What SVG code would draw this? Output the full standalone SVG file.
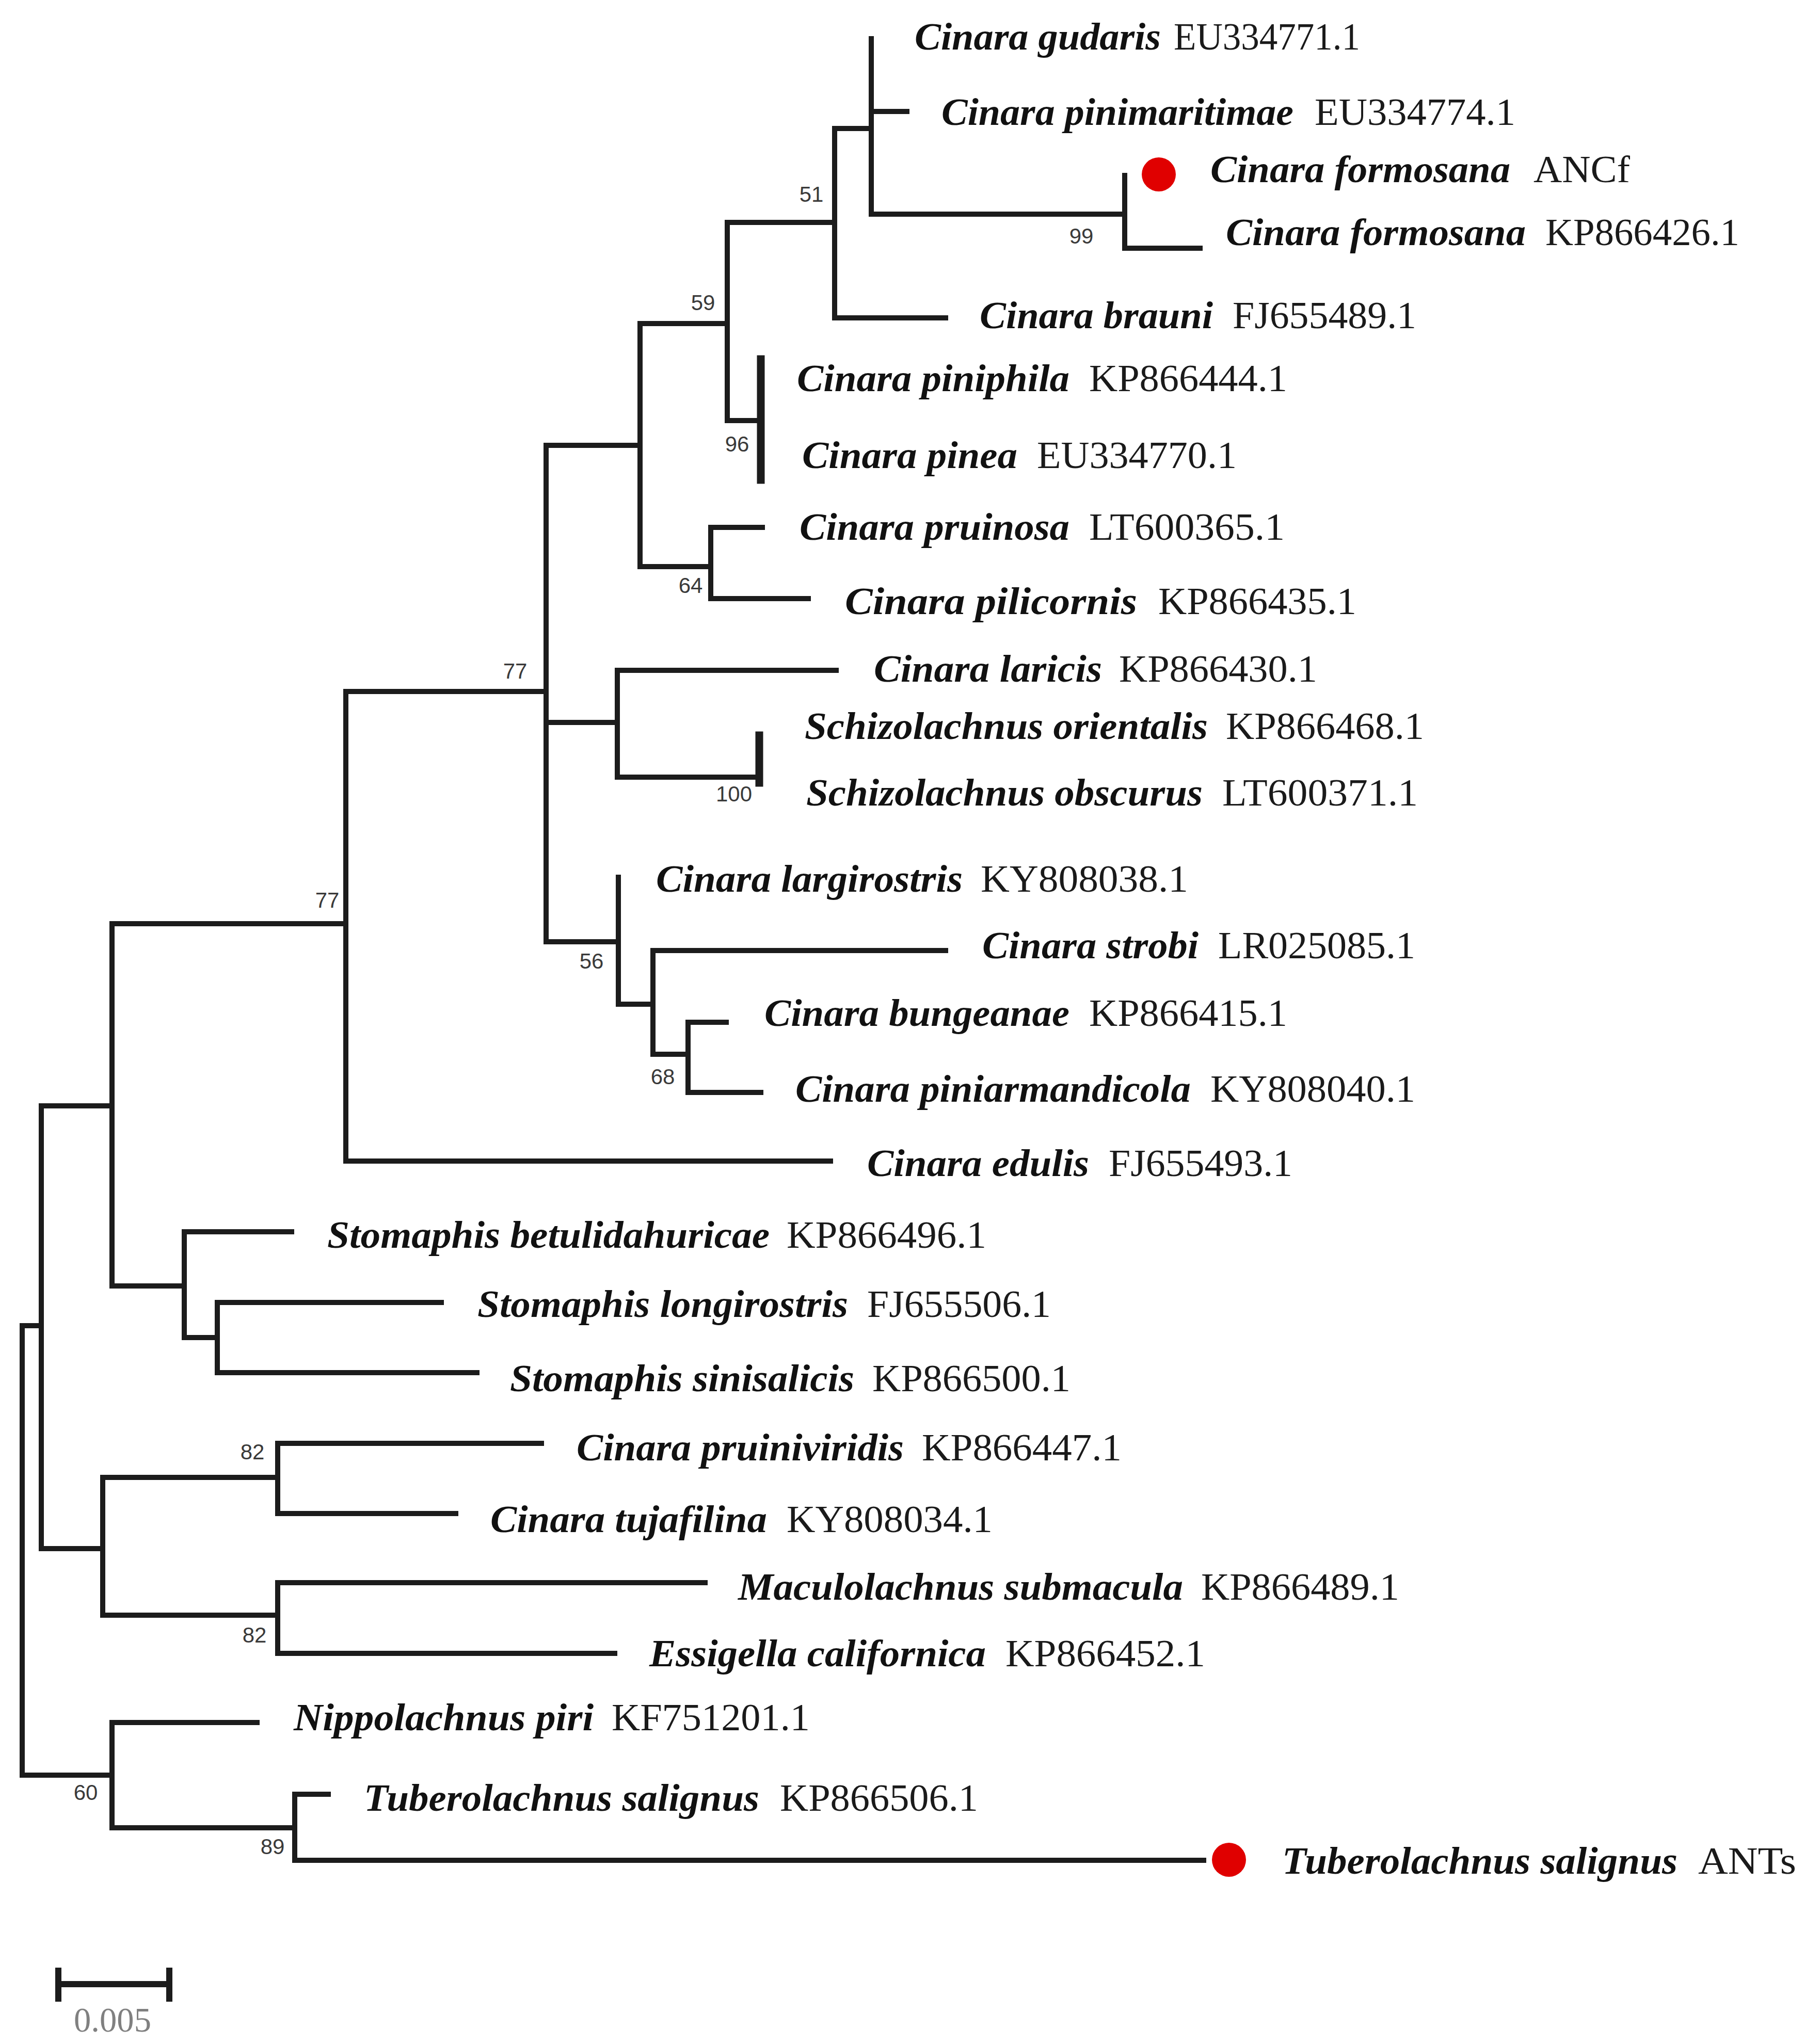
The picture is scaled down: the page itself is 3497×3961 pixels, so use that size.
<svg xmlns="http://www.w3.org/2000/svg" width="3497" height="3961" viewBox="0 0 3497 3961">
<style>
.br{fill:none;stroke:#1c1c1c;stroke-width:10;stroke-linecap:square}
.thick{stroke-width:15}
.sp{font-family:"Liberation Serif",serif;font-style:italic;font-weight:bold;font-size:75px;fill:#111}
.ac{font-family:"Liberation Serif",serif;font-size:75px;fill:#1a1a1a}
.bs{font-family:"Liberation Sans",sans-serif;font-size:42px;fill:#3a3a3a;text-anchor:middle}
.dot{fill:#e00000}
.sc{font-family:"Liberation Serif",serif;font-size:68px;fill:#808080;text-anchor:middle}
</style>
<rect width="3497" height="3961" fill="#fff"/>
<g id="connectors">
<path class="br" d="M43 2569V3440M43 2569H80M43 3440H217"/>
<path class="br" d="M80 2143V3001M80 2143H217M80 3001H199"/>
<path class="br" d="M217 1790V2492M217 1790H670M217 2492H357"/>
<path class="br" d="M670 1340V2250M670 1340H1058M670 2250H1609"/>
<path class="br" d="M1058 863V1825M1058 863H1240M1058 1400H1196M1058 1825H1198"/>
<path class="br" d="M1240 627V1098M1240 627H1409M1240 1098H1377"/>
<path class="br" d="M1409 431V815M1409 431H1617M1409 815H1474"/>
<path class="br" d="M1617 249V616M1617 249H1688M1617 616H1832"/>
<path class="br" d="M1688 75V415M1688 216H1757M1688 415H2179"/>
<path class="br" d="M2179 340V481M2179 481H2325"/>
<path class="br thick" d="M1474 696V930"/>
<path class="br" d="M1377 1022V1160M1377 1022H1477M1377 1160H1566"/>
<path class="br" d="M1196 1299V1506M1196 1299H1620M1196 1506H1471"/>
<path class="br thick" d="M1471 1425V1517"/>
<path class="br" d="M1198 1700V1946M1198 1946H1265"/>
<path class="br" d="M1265 1842V2043M1265 1842H1832M1265 2043H1333"/>
<path class="br" d="M1333 1981V2117M1333 1981H1407M1333 2117H1474"/>
<path class="br" d="M357 2387V2592M357 2387H565M357 2592H421"/>
<path class="br" d="M421 2524V2660M421 2524H855M421 2660H924"/>
<path class="br" d="M199 2863V3130M199 2863H538M199 3130H538"/>
<path class="br" d="M538 2797V2933M538 2797H1049M538 2933H883"/>
<path class="br" d="M538 3067V3204M538 3067H1366M538 3204H1191"/>
<path class="br" d="M217 3338V3542M217 3338H498M217 3542H571"/>
<path class="br" d="M571 3477V3605M571 3477H636M571 3605H2332"/>
</g>
<g id="support-values">
<text class="bs" x="1572" y="391">51</text>
<text class="bs" x="2095" y="472">99</text>
<text class="bs" x="1362" y="601">59</text>
<text class="bs" x="1428" y="875">96</text>
<text class="bs" x="1338" y="1149">64</text>
<text class="bs" x="998" y="1315">77</text>
<text class="bs" x="1422" y="1553">100</text>
<text class="bs" x="634" y="1759">77</text>
<text class="bs" x="1146" y="1877">56</text>
<text class="bs" x="1284" y="2101">68</text>
<text class="bs" x="489" y="2828">82</text>
<text class="bs" x="493" y="3183">82</text>
<text class="bs" x="166" y="3488">60</text>
<text class="bs" x="528" y="3593">89</text>
</g>
<g id="leaf-gudaris"><text class="sp" x="1772" y="96" textLength="477" lengthAdjust="spacingAndGlyphs">Cinara gudaris</text><text class="ac" x="2274" y="96" textLength="361" lengthAdjust="spacingAndGlyphs">EU334771.1</text></g>
<g id="leaf-pinimaritimae"><text class="sp" x="1824" y="242" textLength="682" lengthAdjust="spacingAndGlyphs">Cinara pinimaritimae</text><text class="ac" x="2547" y="242" textLength="389" lengthAdjust="spacingAndGlyphs">EU334774.1</text></g>
<g id="leaf-formosana-ANCf"><circle class="dot" cx="2245" cy="338" r="33"/><text class="sp" x="2345" y="353" textLength="581" lengthAdjust="spacingAndGlyphs">Cinara formosana</text><text class="ac" x="2971" y="353" textLength="187" lengthAdjust="spacingAndGlyphs">ANCf</text></g>
<g id="leaf-formosana-KP866426"><text class="sp" x="2375" y="475" textLength="581" lengthAdjust="spacingAndGlyphs">Cinara formosana</text><text class="ac" x="2994" y="475" textLength="376" lengthAdjust="spacingAndGlyphs">KP866426.1</text></g>
<g id="leaf-brauni"><text class="sp" x="1898" y="636" textLength="452" lengthAdjust="spacingAndGlyphs">Cinara brauni</text><text class="ac" x="2388" y="636" textLength="356" lengthAdjust="spacingAndGlyphs">FJ655489.1</text></g>
<g id="leaf-piniphila"><text class="sp" x="1544" y="758" textLength="528" lengthAdjust="spacingAndGlyphs">Cinara piniphila</text><text class="ac" x="2110" y="758" textLength="384" lengthAdjust="spacingAndGlyphs">KP866444.1</text></g>
<g id="leaf-pinea"><text class="sp" x="1554" y="907" textLength="417" lengthAdjust="spacingAndGlyphs">Cinara pinea</text><text class="ac" x="2009" y="907" textLength="387" lengthAdjust="spacingAndGlyphs">EU334770.1</text></g>
<g id="leaf-pruinosa"><text class="sp" x="1549" y="1046" textLength="523" lengthAdjust="spacingAndGlyphs">Cinara pruinosa</text><text class="ac" x="2110" y="1046" textLength="379" lengthAdjust="spacingAndGlyphs">LT600365.1</text></g>
<g id="leaf-pilicornis"><text class="sp" x="1637" y="1190" textLength="566" lengthAdjust="spacingAndGlyphs">Cinara pilicornis</text><text class="ac" x="2244" y="1190" textLength="384" lengthAdjust="spacingAndGlyphs">KP866435.1</text></g>
<g id="leaf-laricis"><text class="sp" x="1693" y="1321" textLength="442" lengthAdjust="spacingAndGlyphs">Cinara laricis</text><text class="ac" x="2168" y="1321" textLength="384" lengthAdjust="spacingAndGlyphs">KP866430.1</text></g>
<g id="leaf-orientalis"><text class="sp" x="1559" y="1432" textLength="781" lengthAdjust="spacingAndGlyphs">Schizolachnus orientalis</text><text class="ac" x="2375" y="1432" textLength="384" lengthAdjust="spacingAndGlyphs">KP866468.1</text></g>
<g id="leaf-obscurus"><text class="sp" x="1562" y="1561" textLength="768" lengthAdjust="spacingAndGlyphs">Schizolachnus obscurus</text><text class="ac" x="2368" y="1561" textLength="379" lengthAdjust="spacingAndGlyphs">LT600371.1</text></g>
<g id="leaf-largirostris"><text class="sp" x="1271" y="1728" textLength="594" lengthAdjust="spacingAndGlyphs">Cinara largirostris</text><text class="ac" x="1900" y="1728" textLength="402" lengthAdjust="spacingAndGlyphs">KY808038.1</text></g>
<g id="leaf-strobi"><text class="sp" x="1903" y="1857" textLength="419" lengthAdjust="spacingAndGlyphs">Cinara strobi</text><text class="ac" x="2360" y="1857" textLength="382" lengthAdjust="spacingAndGlyphs">LR025085.1</text></g>
<g id="leaf-bungeanae"><text class="sp" x="1481" y="1988" textLength="591" lengthAdjust="spacingAndGlyphs">Cinara bungeanae</text><text class="ac" x="2110" y="1988" textLength="384" lengthAdjust="spacingAndGlyphs">KP866415.1</text></g>
<g id="leaf-piniarmandicola"><text class="sp" x="1541" y="2135" textLength="766" lengthAdjust="spacingAndGlyphs">Cinara piniarmandicola</text><text class="ac" x="2345" y="2135" textLength="397" lengthAdjust="spacingAndGlyphs">KY808040.1</text></g>
<g id="leaf-edulis"><text class="sp" x="1680" y="2279" textLength="430" lengthAdjust="spacingAndGlyphs">Cinara edulis</text><text class="ac" x="2148" y="2279" textLength="356" lengthAdjust="spacingAndGlyphs">FJ655493.1</text></g>
<g id="leaf-betulidahuricae"><text class="sp" x="634" y="2418" textLength="857" lengthAdjust="spacingAndGlyphs">Stomaphis betulidahuricae</text><text class="ac" x="1524" y="2418" textLength="387" lengthAdjust="spacingAndGlyphs">KP866496.1</text></g>
<g id="leaf-longirostris"><text class="sp" x="925" y="2552" textLength="718" lengthAdjust="spacingAndGlyphs">Stomaphis longirostris</text><text class="ac" x="1680" y="2552" textLength="356" lengthAdjust="spacingAndGlyphs">FJ655506.1</text></g>
<g id="leaf-sinisalicis"><text class="sp" x="988" y="2696" textLength="667" lengthAdjust="spacingAndGlyphs">Stomaphis sinisalicis</text><text class="ac" x="1690" y="2696" textLength="384" lengthAdjust="spacingAndGlyphs">KP866500.1</text></g>
<g id="leaf-pruiniviridis"><text class="sp" x="1117" y="2830" textLength="634" lengthAdjust="spacingAndGlyphs">Cinara pruiniviridis</text><text class="ac" x="1786" y="2830" textLength="387" lengthAdjust="spacingAndGlyphs">KP866447.1</text></g>
<g id="leaf-tujafilina"><text class="sp" x="950" y="2969" textLength="536" lengthAdjust="spacingAndGlyphs">Cinara tujafilina</text><text class="ac" x="1524" y="2969" textLength="399" lengthAdjust="spacingAndGlyphs">KY808034.1</text></g>
<g id="leaf-submacula"><text class="sp" x="1430" y="3100" textLength="862" lengthAdjust="spacingAndGlyphs">Maculolachnus submacula</text><text class="ac" x="2327" y="3100" textLength="384" lengthAdjust="spacingAndGlyphs">KP866489.1</text></g>
<g id="leaf-californica"><text class="sp" x="1258" y="3229" textLength="652" lengthAdjust="spacingAndGlyphs">Essigella californica</text><text class="ac" x="1948" y="3229" textLength="387" lengthAdjust="spacingAndGlyphs">KP866452.1</text></g>
<g id="leaf-piri"><text class="sp" x="569" y="3353" textLength="581" lengthAdjust="spacingAndGlyphs">Nippolachnus piri</text><text class="ac" x="1185" y="3353" textLength="384" lengthAdjust="spacingAndGlyphs">KF751201.1</text></g>
<g id="leaf-salignus-KP866506"><text class="sp" x="705" y="3509" textLength="766" lengthAdjust="spacingAndGlyphs">Tuberolachnus salignus</text><text class="ac" x="1511" y="3509" textLength="384" lengthAdjust="spacingAndGlyphs">KP866506.1</text></g>
<g id="leaf-salignus-ANTs"><circle class="dot" cx="2381" cy="3604" r="33"/><text class="sp" x="2484" y="3631" textLength="766" lengthAdjust="spacingAndGlyphs">Tuberolachnus salignus</text><text class="ac" x="3290" y="3631" textLength="190" lengthAdjust="spacingAndGlyphs">ANTs</text></g>
<g id="scale-bar">
<path class="br" style="stroke-width:12" d="M113 3845H328M113 3819V3873M328 3819V3873"/>
<text class="sc" x="218" y="3937" textLength="150" lengthAdjust="spacingAndGlyphs">0.005</text>
</g>
</svg>
